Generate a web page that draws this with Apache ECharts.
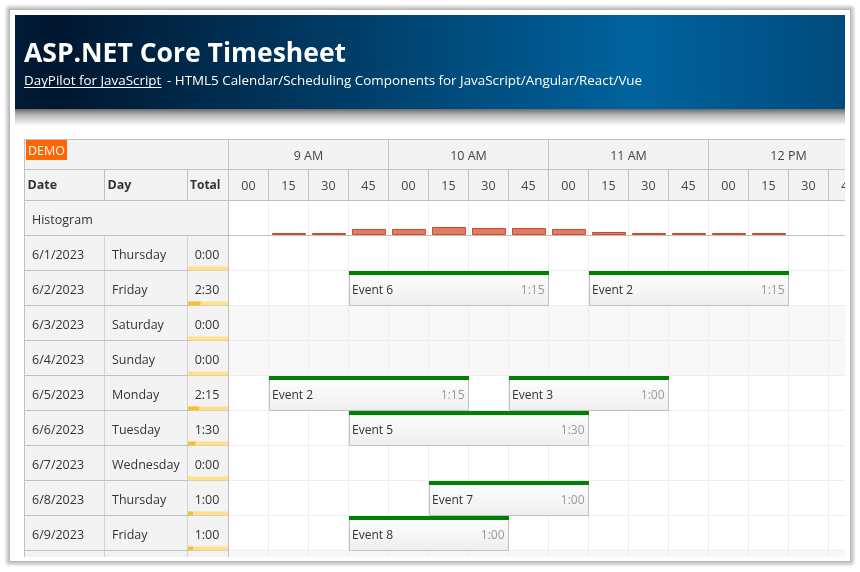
<!DOCTYPE html>
<html>
<head>
<meta charset="utf-8">
<title>ASP.NET Core Timesheet</title>
<script src="https://cdn.jsdelivr.net/npm/echarts@6/dist/echarts.min.js"></script>
<style>
  html, body { margin: 0; padding: 0; background: #fff; }
  #main { width: 860px; height: 572px; }
</style>
</head>
<body>
<div id="main"></div>
<script>
// rows
var dates = ['6/1/2023', '6/2/2023', '6/3/2023', '6/4/2023', '6/5/2023', '6/6/2023', '6/7/2023', '6/8/2023', '6/9/2023', '6/10/2023'];
var weekdays = ['Thursday', 'Friday', 'Saturday', 'Sunday', 'Monday', 'Tuesday', 'Wednesday', 'Thursday', 'Friday', 'Saturday'];
var totals = ['0:00', '2:30', '0:00', '0:00', '2:15', '1:30', '0:00', '1:00', '1:00', '0:00'];
var totalMinutes = [0, 150, 0, 0, 135, 90, 0, 60, 60, 0];
var weekendRows = [2, 3, 9];

// time header
var hours = ['9 AM', '10 AM', '11 AM', '12 PM'];
var slots = ['00', '15', '30', '45', '00', '15', '30', '45', '00', '15', '30', '45', '00', '15', '30', '45'];

// histogram, one value per slot
var histogram = [null, 2, 2, 6, 6, 8, 7, 7, 6, 3, 2, 2, 2, 2, null, null];

// events
var eventNames = ['Event 6', 'Event 2', 'Event 2', 'Event 3', 'Event 5', 'Event 7', 'Event 8'];
var eventRows = [1, 1, 4, 4, 5, 7, 8];
var eventStarts = [585, 675, 555, 645, 585, 615, 585];
var eventLengths = [75, 75, 75, 60, 90, 60, 60];
var eventLabels = ['1:15', '1:15', '1:15', '1:00', '1:30', '1:00', '1:00'];

var FONT = '"Open Sans", sans-serif';
var LINE = '#c0c0c0';
var TEXT = '#333';
var SLOT_LEFT = 228.5;
var ROWS_TOP = 235.5;

var chart = echarts.init(document.getElementById('main'));

function hiddenAxis(extra) {
  return Object.assign({
    axisLine: { show: false }, axisTick: { show: false },
    axisLabel: { show: false }, splitLine: { show: false }
  }, extra);
}

function rowLabelAxis(names, offset, align) {
  return hiddenAxis({
    type: 'category', gridIndex: 7, inverse: true, data: names, position: 'left', offset: offset, z: 3,
    axisLabel: { show: true, interval: 0, align: align, margin: 0, color: TEXT, fontFamily: FONT, fontSize: 12.5 }
  });
}

function headerXAxis(gridIndex, names) {
  return {
    type: 'category', gridIndex: gridIndex, data: names, z: 3,
    axisLine: { show: true, lineStyle: { color: LINE } }, axisTick: { show: false },
    splitLine: { show: true, interval: 0, lineStyle: { color: LINE } },
    axisLabel: { inside: true, interval: 0, margin: gridIndex === 1 ? 7 : 8, color: '#444', fontFamily: FONT, fontSize: 12.5 }
  };
}

function gradient(x2, y2, from, to) {
  return new echarts.graphic.LinearGradient(0, 0, x2, y2, [{ offset: 0, color: from }, { offset: 1, color: to }]);
}

// corner of the page shadow, cx/cy is the side of the box that touches the page
function shadowCorner(x, y, cx, cy) {
  return { type: 'rect', z: 21, shape: { x: x, y: y, width: 6, height: 6 },
    style: { fill: new echarts.graphic.RadialGradient(cx, cy, 1, [{ offset: 0, color: SHADE }, { offset: 1, color: CLEAR }]) } };
}

var SHADE = 'rgba(0,0,0,0.3)';
var CLEAR = 'rgba(0,0,0,0)';

var option = {
  animation: false,
  grid: [
    { left: SLOT_LEFT, top: ROWS_TOP, width: 640, height: 350, outerBoundsMode: 'none' },                  // 0 rows
    { left: SLOT_LEFT, top: 139.5, width: 640, height: 30, outerBoundsMode: 'none', show: true, borderWidth: 0, backgroundColor: '#f3f3f3' }, // 1 hours
    { left: SLOT_LEFT, top: 169.5, width: 640, height: 31, outerBoundsMode: 'none', show: true, borderWidth: 0, backgroundColor: '#f3f3f3' }, // 2 slots
    { left: SLOT_LEFT, top: 200.5, width: 640, height: 35, outerBoundsMode: 'none' },                      // 3 histogram lines
    { left: 24.5, top: ROWS_TOP, width: 204, height: 350, outerBoundsMode: 'none', show: true, borderWidth: 0, backgroundColor: '#f3f3f3' },  // 4 row panel
    { left: 188, top: ROWS_TOP, width: 40, height: 350, outerBoundsMode: 'none' },                         // 5 total bars
    { left: 229, top: 200, width: 640, height: 35, outerBoundsMode: 'none' },                              // 6 histogram bars
    { left: SLOT_LEFT, top: ROWS_TOP + 2, width: 640, height: 350, outerBoundsMode: 'none' }               // 7 row labels
  ],
  xAxis: [
    { type: 'value', gridIndex: 0, min: 540, max: 780, interval: 15, z: 1,
      axisLine: { show: false }, axisTick: { show: false }, axisLabel: { show: false },
      splitLine: { show: true, lineStyle: { color: '#eeeeee' } } },
    headerXAxis(1, hours),
    headerXAxis(2, slots),
    hiddenAxis({ type: 'category', gridIndex: 3, data: slots, z: 1,
      splitLine: { show: true, interval: 0, lineStyle: { color: '#eeeeee' } } }),
    hiddenAxis({ type: 'value', gridIndex: 4, min: 0, max: 1 }),
    hiddenAxis({ type: 'value', gridIndex: 5, min: 0, max: 480 }),
    hiddenAxis({ type: 'category', gridIndex: 6, data: slots }),
    hiddenAxis({ type: 'value', gridIndex: 7, min: 0, max: 1 })
  ],
  yAxis: [
    { type: 'category', gridIndex: 0, inverse: true, data: dates, z: 1,
      axisLine: { show: false }, axisTick: { show: false }, axisLabel: { show: false },
      splitLine: { show: true, interval: 0, lineStyle: { color: '#eeeeee' } } },
    rowLabelAxis(dates, 196.5, 'left'),
    rowLabelAxis(weekdays, 116.5, 'left'),
    rowLabelAxis(totals, 21.5, 'center'),
    hiddenAxis({ type: 'value', gridIndex: 1 }),
    hiddenAxis({ type: 'value', gridIndex: 2 }),
    hiddenAxis({ type: 'value', gridIndex: 3 }),
    hiddenAxis({ type: 'category', gridIndex: 4, inverse: true, data: dates, z: 1,
      splitLine: { show: true, interval: 0, lineStyle: { color: LINE } } }),
    hiddenAxis({ type: 'category', gridIndex: 5, inverse: true, data: dates }),
    hiddenAxis({ type: 'value', gridIndex: 6, min: 0, max: 35 })
  ],
  series: [
    {
      // weekend shading
      type: 'custom', xAxisIndex: 0, yAxisIndex: 0, z: 0, silent: true,
      data: weekendRows.map(function (r) { return [r]; }),
      encode: { y: 0 },
      renderItem: function (params, api) {
        var c = api.coord([540, api.value(0)]);
        var h = api.size([0, 1])[1];
        return { type: 'rect', shape: { x: c[0], y: c[1] - h / 2, width: 640, height: h }, style: { fill: '#f8f8f8' } };
      }
    },
    {
      // events
      type: 'custom', xAxisIndex: 0, yAxisIndex: 0, z: 2, silent: true,
      data: eventStarts.map(function (s, i) { return [s, s + eventLengths[i], eventRows[i]]; }),
      encode: { x: [0, 1], y: 2 },
      renderItem: function (params, api) {
        var a = api.coord([api.value(0), api.value(2)]);
        var b = api.coord([api.value(1), api.value(2)]);
        var h = api.size([0, 1])[1];
        var top = a[1] - h / 2;
        var w = b[0] - a[0];
        return {
          type: 'group',
          children: [
            { type: 'rect', shape: { x: a[0] + 1, y: top + 1, width: w - 1, height: h - 1 },
              style: { stroke: LINE, lineWidth: 1, fill: gradient(0, 1, '#ffffff', '#eeeeee') } },
            { type: 'rect', shape: { x: a[0] + 0.5, y: top + 0.5, width: w, height: 4 }, style: { fill: '#008000' } },
            { type: 'text', x: a[0] + 3.5, y: top + 20.5,
              style: { text: eventNames[params.dataIndex], fill: TEXT, font: '12px ' + FONT, textAlign: 'left', textVerticalAlign: 'middle' } },
            { type: 'text', x: b[0] - 4, y: top + 20.5,
              style: { text: eventLabels[params.dataIndex], fill: '#999', font: '12px ' + FONT, textAlign: 'right', textVerticalAlign: 'middle' } }
          ]
        };
      }
    },
    {
      type: 'bar', xAxisIndex: 6, yAxisIndex: 9, data: histogram, barWidth: 34, silent: true,
      itemStyle: { color: '#e07c65', borderColor: '#cf4a2a', borderWidth: 1 }
    },
    {
      // total bars under the row totals
      type: 'custom', xAxisIndex: 5, yAxisIndex: 8, z: 2, silent: true,
      data: totalMinutes.map(function (m, i) { return [m, i]; }),
      encode: { x: 0, y: 1 },
      renderItem: function (params, api) {
        var c = api.coord([0, api.value(1)]);
        var w = api.size([api.value(0), 0])[0];
        var h = api.size([0, 1])[1];
        var y = c[1] + h / 2 - 4;
        return {
          type: 'group',
          children: [
            { type: 'rect', shape: { x: c[0], y: y, width: 40, height: 4 }, style: { fill: '#ffe08f' } },
            { type: 'rect', shape: { x: c[0], y: y, width: w, height: 4 }, style: { fill: '#f4c030' } }
          ]
        };
      }
    }
  ],
  graphic: [
    // banner
    { type: 'rect', z: -2, shape: { x: 15, y: 109, width: 830, height: 17 },
      style: { fill: new echarts.graphic.LinearGradient(0, 0, 0, 1, [
        { offset: 0, color: '#6a6a6a' }, { offset: 0.35, color: '#b8b8b8' }, { offset: 1, color: '#ffffff' }]) } },
    { type: 'rect', z: -2, shape: { x: 15, y: 15, width: 830, height: 94 },
      style: { fill: new echarts.graphic.LinearGradient(0, 0, 1, 0, [
        { offset: 0, color: '#001c38' }, { offset: 0.05, color: '#001730' }, { offset: 0.75, color: '#00639e' }, { offset: 1, color: '#004b7c' }]) } },
    { type: 'text', z: 5, x: 24, y: 54,
      style: { text: 'ASP.NET Core Timesheet', fill: '#fff', font: 'bold 26.5px ' + FONT, textVerticalAlign: 'middle' } },
    { type: 'text', z: 5, x: 24, y: 81,
      style: { text: 'DayPilot for JavaScript', fill: '#fff', font: '13.4px ' + FONT, textVerticalAlign: 'middle' } },
    { type: 'line', z: 5, shape: { x1: 24, y1: 87.5, x2: 161.5, y2: 87.5 }, style: { stroke: '#fff', lineWidth: 1 } },
    { type: 'text', z: 5, x: 167, y: 81,
      style: { text: '- HTML5 Calendar/Scheduling Components for JavaScript/Angular/React/Vue', fill: '#fff', font: '13.4px ' + FONT, textVerticalAlign: 'middle' } },

    // corner header of the table
    { type: 'rect', z: -1, shape: { x: 24.5, y: 139.5, width: 204, height: 96 }, style: { fill: '#f3f3f3' } },
    { type: 'line', z: 4, shape: { x1: 24.5, y1: 139.5, x2: 845, y2: 139.5 }, style: { stroke: LINE } },
    { type: 'line', z: 4, shape: { x1: 24.5, y1: 169.5, x2: 228.5, y2: 169.5 }, style: { stroke: LINE } },
    { type: 'line', z: 4, shape: { x1: 24.5, y1: 200.5, x2: 845, y2: 200.5 }, style: { stroke: LINE } },
    { type: 'line', z: 4, shape: { x1: 24.5, y1: 235.5, x2: 845, y2: 235.5 }, style: { stroke: LINE } },
    { type: 'line', z: 4, shape: { x1: 24.5, y1: 139.5, x2: 24.5, y2: 572 }, style: { stroke: LINE } },
    { type: 'line', z: 4, shape: { x1: 228.5, y1: 139.5, x2: 228.5, y2: 572 }, style: { stroke: LINE } },
    { type: 'line', z: 4, shape: { x1: 104.5, y1: 169.5, x2: 104.5, y2: 200.5 }, style: { stroke: LINE } },
    { type: 'line', z: 4, shape: { x1: 187.5, y1: 169.5, x2: 187.5, y2: 200.5 }, style: { stroke: LINE } },
    { type: 'line', z: 1, shape: { x1: 104.5, y1: 235.5, x2: 104.5, y2: 572 }, style: { stroke: '#d4d4d4' } },
    { type: 'line', z: 1, shape: { x1: 187.5, y1: 235.5, x2: 187.5, y2: 572 }, style: { stroke: '#d4d4d4' } },
    { type: 'rect', z: 5, shape: { x: 26, y: 140, width: 41, height: 20 }, style: { fill: '#ff6600' } },
    { type: 'text', z: 6, x: 46.5, y: 151,
      style: { text: 'DEMO', fill: '#fff', font: '12.5px ' + FONT, textAlign: 'center', textVerticalAlign: 'middle' } },
    { type: 'text', z: 6, x: 27.5, y: 185.5, style: { text: 'Date', fill: TEXT, font: 'bold 12.5px ' + FONT, textVerticalAlign: 'middle' } },
    { type: 'text', z: 6, x: 107.5, y: 185.5, style: { text: 'Day', fill: TEXT, font: 'bold 12.5px ' + FONT, textVerticalAlign: 'middle' } },
    { type: 'text', z: 6, x: 190, y: 185.5, style: { text: 'Total', fill: TEXT, font: 'bold 12px ' + FONT, textVerticalAlign: 'middle' } },
    { type: 'text', z: 6, x: 32, y: 220, style: { text: 'Histogram', fill: TEXT, font: '12.5px ' + FONT, textVerticalAlign: 'middle' } },

    // the table is cut off by the page padding, then the page shadow goes around everything
    { type: 'rect', z: 20, shape: { x: 845, y: 0, width: 15, height: 572 }, style: { fill: '#fff' } },
    { type: 'rect', z: 20, shape: { x: 0, y: 557, width: 860, height: 15 }, style: { fill: '#fff' } },
    { type: 'rect', z: 21, shape: { x: 850, y: 10, width: 6, height: 551 }, style: { fill: gradient(1, 0, SHADE, CLEAR) } },
    { type: 'rect', z: 21, shape: { x: 10, y: 561, width: 840, height: 6 }, style: { fill: gradient(0, 1, SHADE, CLEAR) } },
    { type: 'rect', z: 21, shape: { x: 4, y: 10, width: 6, height: 551 }, style: { fill: gradient(1, 0, CLEAR, SHADE) } },
    { type: 'rect', z: 21, shape: { x: 10, y: 4, width: 840, height: 6 }, style: { fill: gradient(0, 1, CLEAR, SHADE) } },
    shadowCorner(4, 4, 1, 1),
    shadowCorner(850, 4, 0, 1),
    shadowCorner(4, 561, 1, 0),
    shadowCorner(850, 561, 0, 0)
  ]
};

chart.setOption(option);
</script>
</body>
</html>
